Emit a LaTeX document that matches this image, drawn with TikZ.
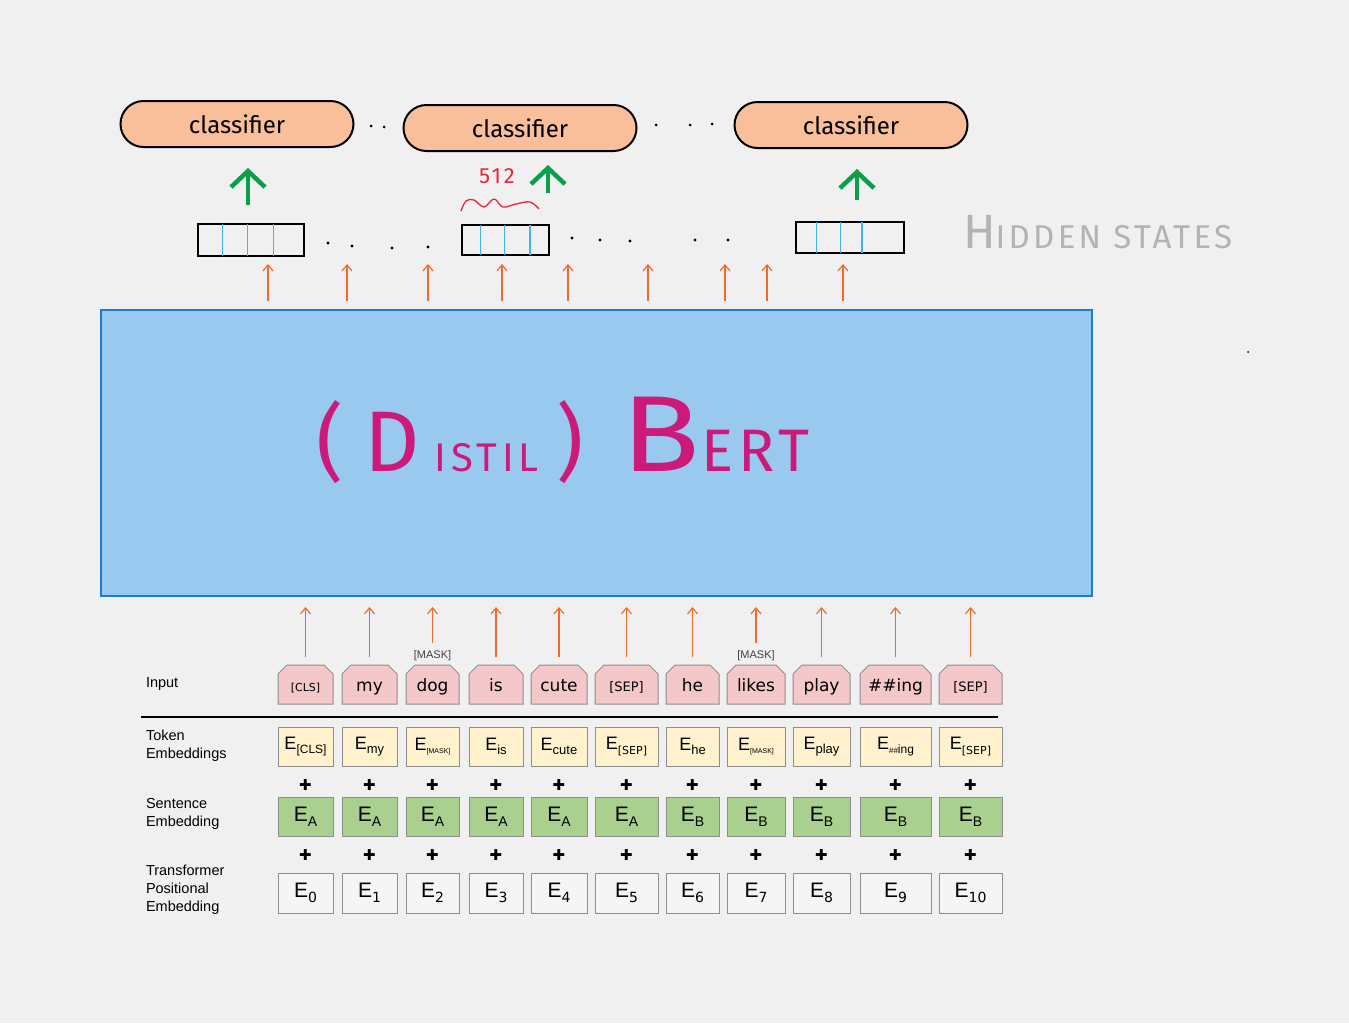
\documentclass[tikz,border=0pt]{standalone}
\usepackage{fontspec}
\usepackage{graphicx}
\setmainfont{Liberation Sans}
\newfontfamily\tokfont{DejaVu Sans}
\newfontfamily\handfont{Fira Sans}
\usetikzlibrary{arrows.meta,shapes.misc,calc}
\definecolor{bgc}{HTML}{F0F0F0}
\definecolor{clsfill}{HTML}{F9BF9B}
\definecolor{bertfill}{HTML}{99C9EF}
\definecolor{bertline}{HTML}{1C7CD5}
\definecolor{magen}{HTML}{CC1A7A}
\definecolor{garr}{HTML}{0A9F4A}
\definecolor{oarr}{HTML}{F26B2A}
\definecolor{pinkf}{HTML}{F4C7C9}
\definecolor{yelf}{HTML}{FFF2CC}
\definecolor{senf}{HTML}{A9D08E}
\definecolor{posf}{HTML}{F5F5F5}
\definecolor{boxl}{HTML}{8E8E8E}
\definecolor{hidg}{HTML}{B3B3B3}
\definecolor{cyanl}{HTML}{3FB4F0}
\definecolor{redt}{HTML}{E8283A}
\newcommand\sub[3][4.5pt]{\raisebox{-#1}{\fontsize{#2}{#2}\selectfont #3}}
\newcommand\fs[1]{\fontsize{#1}{#1}\selectfont}
\tikzset{
  clsf/.style={draw=black, line width=2pt, fill=clsfill, rounded corners=23pt,
    minimum width=233pt, minimum height=46pt, font=\handfont\fs{24}},
  hsbox/.style={draw=black, line width=1.6pt},
  cyanline/.style={draw=cyanl, line width=1.3pt},
  bertbox/.style={draw=bertline, line width=2pt, fill=bertfill,
    minimum width=991pt, minimum height=286pt},
  garrow/.style={draw=garr, line width=4.5pt, -{Straight Barb[length=16pt,width=34pt]}},
  oarrow/.style={draw=oarr, line width=1.2pt, -{Straight Barb[length=6pt,width=10pt]}},
  inp/.style={chamfered rectangle, chamfered rectangle corners={north west,north east},
    chamfered rectangle xsep=4.5pt, chamfered rectangle ysep=4.5pt,
    draw=boxl, line width=1pt, fill=pinkf, minimum height=39pt, font=\tokfont\fs{17},
    text height=15pt, text depth=2pt},
  tokE/.style={draw=boxl, line width=1pt, fill=yelf, minimum height=39pt, font=\fs{18}},
  senE/.style={draw=boxl, line width=1pt, fill=senf, minimum height=39pt, font=\fs{21}},
  posE/.style={draw=boxl, line width=1pt, fill=posf, minimum height=40pt, font=\fs{21}},
  plus/.style={font=\tokfont\fs{15}},
  lbl/.style={anchor=west, align=left, font=\fs{14.5}, execute at begin node=\setlength{\baselineskip}{18pt}},
  masklbl/.style={font=\fs{11}, text=black!75},
  dotm/.style={fill=black},
}
% #1 idx, #2 left, #3 right, #4 input, #5 token emb, #6 sentence, #7 position, #8 tail gap
\newcommand\col[8]{%
  \node[inp, minimum width={(#3-#2)*1pt}] (in#1) at ({(#2+#3)/2},684.5) {#4};
  \node[tokE, minimum width={(#3-#2)*1pt}] (te#1) at ({(#2+#3)/2},746.5) {#5};
  \node[plus] (pa#1) at ({(#2+#3)/2},785) {✚};
  \node[senE, minimum width={(#3-#2)*1pt}] (se#1) at ({(#2+#3)/2},816.5) {E\sub[5pt]{14}{#6}};
  \node[plus] (pb#1) at ({(#2+#3)/2},855) {✚};
  \node[posE, minimum width={(#3-#2)*1pt}] (pe#1) at ({(#2+#3)/2},893) {E\sub[5pt]{14}{\tokfont #7}};
  \draw[oarrow, shorten <=#8, shorten >=11pt] (in#1.north) -- (in#1.north |- bert.south);
}
\begin{document}
\begin{tikzpicture}[x=1pt,y=-1pt, every node/.style={inner sep=0pt, outer sep=0pt}]
\fill[bgc] (0,0) rectangle (1349,1023);

% classifiers
\node[clsf] (c1) at (237,124) {classifier};
\node[clsf] (c2) at (520,128) {classifier};
\node[clsf] (c3) at (851,125) {classifier};
\foreach \p in {(371,126),(384,127),(656,125),(690,125),(712,124)} \fill[dotm] \p circle (1.5pt);

% hidden state vectors
\node[hsbox, minimum width=106pt, minimum height=32pt] (hs1) at (251,240) {};
\node[hsbox, minimum width=87pt, minimum height=30pt] (hs2) at (505.5,240) {};
\node[hsbox, minimum width=108pt, minimum height=31pt] (hs3) at (850,237.5) {};
\foreach \f in {0.23,0.47,0.71}
  \draw[cyanline] ($(hs1.north west)!\f!(hs1.north east)$) -- ($(hs1.south west)!\f!(hs1.south east)$);
\foreach \f in {0.21,0.49,0.78}
  \draw[cyanline] ($(hs2.north west)!\f!(hs2.north east)$) -- ($(hs2.south west)!\f!(hs2.south east)$);
\foreach \f in {0.19,0.41,0.61}
  \draw[cyanline] ($(hs3.north west)!\f!(hs3.north east)$) -- ($(hs3.south west)!\f!(hs3.south east)$);
\foreach \p in {(328,243),(352,246),(392,248),(428,247),(572,238),(600,240),(630,241),(695,240),(728,240)}
  \fill[dotm] \p circle (1.6pt);

% green arrows
\draw[garrow, shorten <=19pt, shorten >=21pt] ([xshift=-3pt]hs1.north) -- ([xshift=-3pt]hs1.north |- c1.south);
\draw[garrow, shorten <=32pt, shorten >=14pt] ([xshift=42.5pt]hs2.north) -- ([xshift=42.5pt]hs2.north |- c2.south);
\draw[garrow, shorten <=22pt, shorten >=21pt] ([xshift=7pt]hs3.north) -- ([xshift=7pt]hs3.north |- c3.south);

% 512 annotation
\node[text=redt, font=\handfont\fs{22}\addfontfeatures{LetterSpace=12}] (n512) at (497,176) {512};
\draw[redt, line width=1.3pt] plot[smooth, tension=0.6] coordinates {(461,211) (466,201) (474,200) (484,207) (494,199) (503,207) (516,204) (530,202) (539,209)};

% hidden states label
\node[anchor=base west, text=hidg, font=\handfont\addfontfeatures{LetterSpace=10}] (hid) at (963,248)
  {{\fs{48}H}{\fs{33}IDDEN STATES}};

% BERT
\node[bertbox] (bert) at (596.5,453) {};
\node[anchor=base west, text=magen, font=\handfont] (btxt) at (316,471)
  {{\fs{84}(}\hspace{21pt}{\fs{86}D}\hspace{15pt}{\fs{40}\addfontfeatures{LetterSpace=12}ISTIL}\hspace{18pt}{\fs{84})}\hspace{37pt}{\fs{108}\scalebox{1.2}[1]{B}}\hspace{2pt}{\fs{60}\addfontfeatures{LetterSpace=8}ERT}};

% arrows from BERT to hidden states
\foreach \x [count=\i] in {268,347,428,502,568,648,725,767,843} {
  \coordinate (t\i) at (\x,264);
  \draw[oarrow, shorten <=9pt] (bert.north -| t\i) -- (t\i);
}

% left labels
\node[lbl] (lin) at (146,684) {Input};
\node[lbl] (ltok) at (146,746) {Token\\Embeddings};
\node[lbl] (lsen) at (146,814) {Sentence\\Embedding};
\node[lbl] (lpos) at (146,890) {Transformer\\Positional\\Embedding};

% columns
\col{1}{278}{333}{\fs{11}[CLS]}{E\sub{12}{[CLS]}}{A}{0}{8pt}
\col{2}{342}{397}{my}{E\sub{13}{my}}{A}{1}{8pt}
\col{3}{406}{459}{dog}{E\sub[3.5pt]{7}{[MASK]}}{A}{2}{22pt}
\col{4}{469}{523}{is}{E\sub{13}{is}}{A}{3}{8pt}
\col{5}{531}{587}{cute}{E\sub{13}{cute}}{A}{4}{8pt}
\col{6}{595}{658}{\fs{13}[SEP]}{E\sub{12}{\tokfont\fs{11}[SEP]}}{A}{5}{8pt}
\col{7}{666}{719}{he}{E\sub{13}{he}}{B}{6}{8pt}
\col{8}{727}{785}{likes}{E\sub[3.5pt]{7}{[MASK]}}{B}{7}{22pt}
\col{9}{793}{850}{play}{E\sub{13}{play}}{B}{8}{8pt}
\col{10}{860}{931}{\#\#ing}{E\sub{12}{{\fs{8}\#\#}ing}}{B}{9}{8pt}
\col{11}{939}{1002}{\fs{13}[SEP]}{E\sub{12}{\tokfont\fs{11}[SEP]}}{B}{10}{8pt}

\node[masklbl] (m3) at (in3.north |- 0,656) {[MASK]};
\node[masklbl] (m8) at (in8.north |- 0,656) {[MASK]};

% separator line
\coordinate (sepL) at (141,717);
\coordinate (sepR) at (998,717);
\draw[line width=2.5pt] (sepL) -- (sepR);

\fill[dotm] (1248,352) circle (1pt);
\end{tikzpicture}
\end{document}
